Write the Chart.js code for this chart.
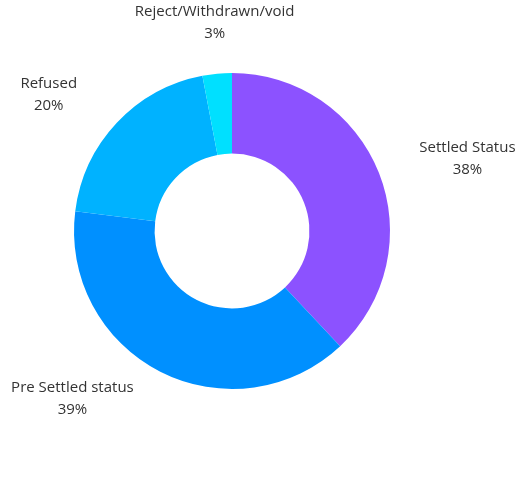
<!DOCTYPE html>
<html><head><meta charset="utf-8">
<script src="https://cdn.jsdelivr.net/npm/chart.js@4"></script>
<style>html,body{margin:0;padding:0;background:#fff}#w{width:524px;height:487px}</style>
</head><body><div id="w"><canvas id="c"></canvas></div>
<script>
const categories = ["Settled Status","Pre Settled status","Refused","Reject/Withdrawn/void"];
const values = [38,39,20,3];
const colors = ["#8c52ff","#0090ff","#00b2ff","#00e0ff"];
const labelOffsets = [[1.49,-0.46],[-1.01,1.06],[-1.16,-0.86],[-0.11,-1.32]];
const labelPlugin = {
  id:'lbl',
  afterDraw(chart){
    const ctx=chart.ctx, meta=chart.getDatasetMeta(0);
    ctx.save();
    ctx.font='15px "Open Sans", sans-serif';
    ctx.fillStyle='#333';
    ctx.textAlign='center';ctx.textBaseline='middle';
    meta.data.forEach((arc,i)=>{
      const r=arc.outerRadius, o=labelOffsets[i];
      const x=arc.x+o[0]*r, y=arc.y+o[1]*r;
      ctx.fillText(categories[i],x,y-11);
      ctx.fillText(values[i]+'%',x,y+11);
    });
    ctx.restore();
  }
};
new Chart(document.getElementById('c'),{
  type:'doughnut',
  data:{labels:categories,datasets:[{data:values,backgroundColor:colors,borderWidth:0}]},
  options:{responsive:true,maintainAspectRatio:false,animation:false,cutout:'49%',
    layout:{padding:{left:74,right:134,top:73,bottom:98}},
    plugins:{legend:{display:false},tooltip:{enabled:false}}},
  plugins:[labelPlugin]
});
</script></body></html>
